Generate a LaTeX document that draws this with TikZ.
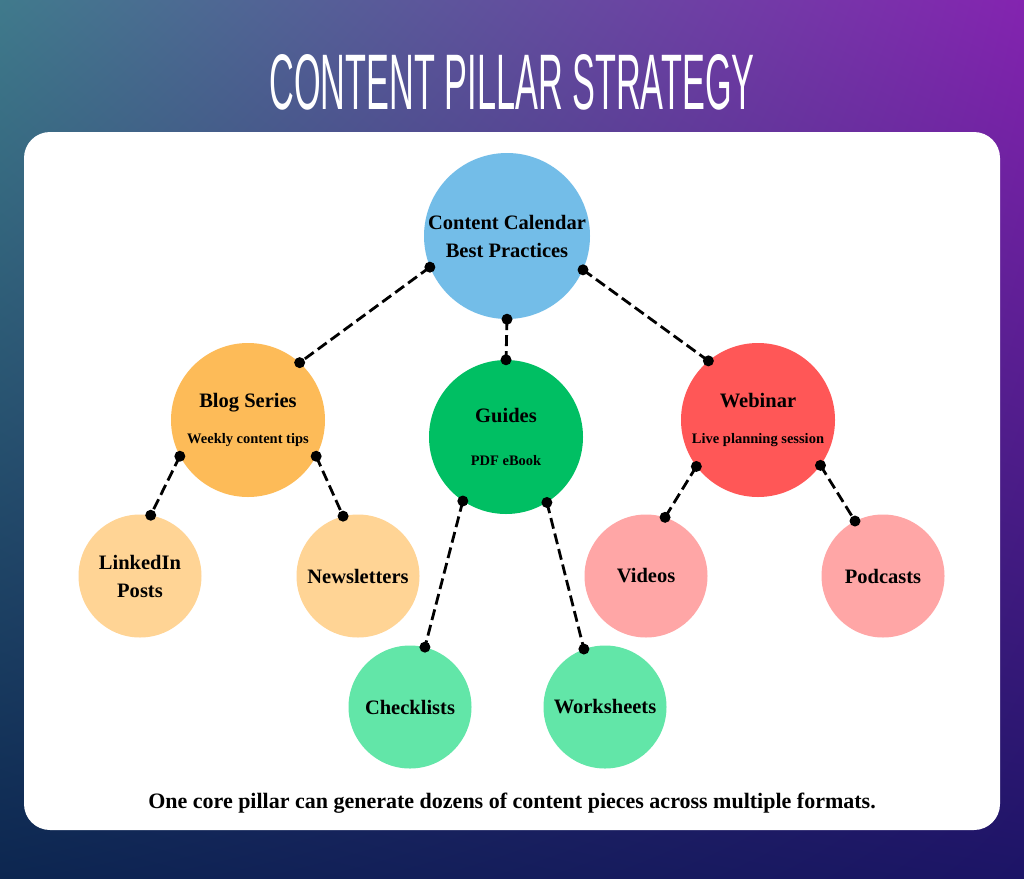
\documentclass[tikz,border=0pt]{standalone}
\usepackage{fontspec}
\setmainfont{Liberation Serif}
\newfontfamily\titlefont{Liberation Sans}
\usetikzlibrary{shadings}
\definecolor{bgUL}{HTML}{407A8C}
\definecolor{bgUR}{HTML}{8424B0}
\definecolor{bgLL}{HTML}{0C2650}
\definecolor{bgLR}{HTML}{1C1466}
\definecolor{cRoot}{HTML}{73BDE8}
\definecolor{cBlog}{HTML}{FDBB58}
\definecolor{cGuide}{HTML}{00BF63}
\definecolor{cWeb}{HTML}{FF5757}
\definecolor{cBlogL}{HTML}{FFD495}
\definecolor{cGuideL}{HTML}{62E6A8}
\definecolor{cWebL}{HTML}{FFA6A6}
\begin{document}
\begin{tikzpicture}[x=1pt,y=-1pt,
  bubble/.style={circle, inner sep=0pt, align=center, text=black,
    font=\bfseries\fontsize{20.5}{28}\selectfont},
  big/.style={bubble, minimum size=154pt},
  small/.style={bubble, minimum size=123pt},
  conn/.style={line width=2.8pt, dash pattern=on 11pt off 5pt, black},
  dotmark/.style={fill=black}]
\useasboundingbox (0,0) rectangle (1024,878);
\shade[upper left=bgUL, upper right=bgUR, lower left=bgLL, lower right=bgLR]
  (0,0) rectangle (1024,878);
\node[text=white, inner sep=0pt] (title) at (512,82)
  {\resizebox{485pt}{55pt}{\titlefont CONTENT PILLAR STRATEGY}};
\fill[white, rounded corners=26pt] (24,132) rectangle (1000,830);

\node[bubble, fill=cRoot, minimum size=166pt] (root) at (507,236)
  {Content Calendar\\Best Practices};
\node[big, fill=cBlog] (blog) at (248,420)
  {Blog Series\\[8pt]{\fontsize{14.5}{17}\selectfont Weekly content tips}};
\node[big, fill=cGuide] (guides) at (506,437)
  {Guides\\[15pt]{\fontsize{14.5}{17}\selectfont PDF eBook}};
\node[big, fill=cWeb] (web) at (758,420)
  {Webinar\\[8pt]{\fontsize{14.5}{17}\selectfont Live planning session}};
\node[small, fill=cBlogL] (linkedin) at (140,576) {LinkedIn\\Posts};
\node[small, fill=cBlogL] (news) at (358,576) {Newsletters};
\node[small, fill=cGuideL] (check) at (410,707) {Checklists};
\node[small, fill=cGuideL] (work) at (605,707) {Worksheets};
\node[small, fill=cWebL] (videos) at (646,576) {Videos};
\node[small, fill=cWebL] (pods) at (883,576) {Podcasts};

\foreach \a/\b in {root.202/blog.48, root.270/guides.90, root.336/web.130,
  blog.208/linkedin.80, blog.332/news.104,
  guides.236/check.76, guides.302/work.110,
  web.217/videos.72, web.324/pods.117}{
  \draw[conn] (\a) -- (\b);
  \fill[dotmark] (\a) circle (5.5pt);
  \fill[dotmark] (\b) circle (5.5pt);
}

\node[font=\bfseries\fontsize{22}{26}\selectfont, inner sep=0pt] (foot) at (512,803)
  {One core pillar can generate dozens of content pieces across multiple formats.};
\end{tikzpicture}
\end{document}
